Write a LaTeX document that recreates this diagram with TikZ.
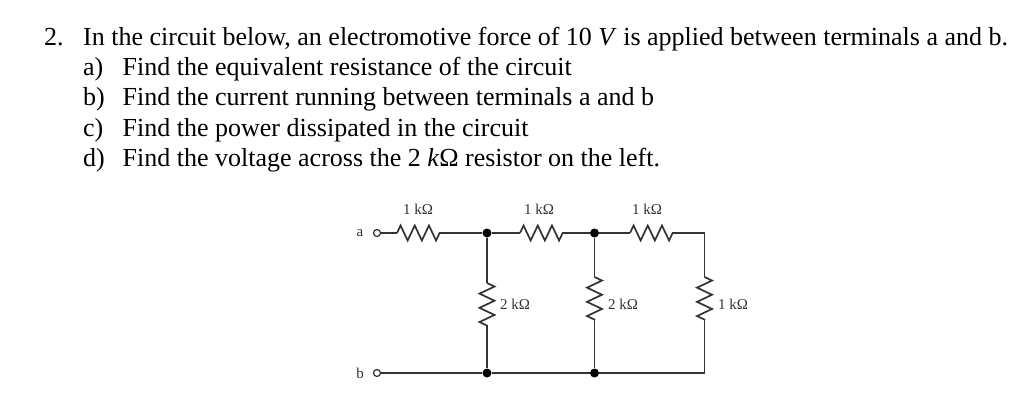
\documentclass[tikz,border=0pt]{standalone}
\usepackage{fontspec}
\setmainfont{Liberation Serif}
\usetikzlibrary{decorations.pathmorphing}
\tikzset{
    %Define style for text lines
    question/.style={
           anchor=base west,
           inner sep=0pt,
           font=\fontsize{26}{30}\selectfont,
           text=black},
    %Define style for component labels
    value/.style={
           inner sep=0pt,
           font=\fontsize{15}{16}\selectfont,
           text=black!80!white},
    %Define style for junctions and terminals
    junction/.style={
           circle,
           inner sep=0pt,
           minimum size=9pt,
           fill=black},
    terminal/.style={
           circle,
           inner sep=0pt,
           minimum size=7pt,
           draw=black!80!white, line width=1.2pt,
           fill=white},
    % Define wire and resistor style
    wire/.style={
           draw=black!80!white,
           line width=1.7pt},
    res/.style={
           wire,
           decorate,
           decoration={zigzag,amplitude=7.5pt,segment length=14.2pt}}
}

\begin{document}
\begin{tikzpicture}[x=1pt,y=-1pt]
\useasboundingbox (0,0) rectangle (1024,417);

 %text

\node[question] at (44,46) (num){2.};
\node[question] at (83,46) (line1){In the circuit below, an electromotive force of 10 \textit{V} is applied between terminals a and b.};
\node[question] at (83,76) (a1){a)};
\node[question] at (122.5,76) (a2){Find the equivalent resistance of the circuit};
\node[question] at (83,106) (b1){b)};
\node[question] at (122.5,106) (b2){Find the current running between terminals a and b};
\node[question] at (83,136) (c1){c)};
\node[question] at (122.5,136) (c2){Find the power dissipated in the circuit};
\node[question] at (83,166) (d1){d)};
\node[question] at (122.5,166) (d2){Find the voltage across the 2 \textit{k}Ω resistor on the left.};

 %nodes

\node[terminal] at (377,233) (A){};
\node[terminal] at (377,373) (B){};
\node[junction] at (487,233) (J1){};
\node[junction] at (594.5,233) (J2){};
\node[junction] at (487,373) (J3){};
\node[junction] at (594.5,373) (J4){};
\coordinate (C1) at (704.5,233);
\coordinate (C2) at (704.5,373);

\coordinate (R1a) at (397,233);
\coordinate (R1b) at (440,233);
\coordinate (R2a) at (520,233);
\coordinate (R2b) at (563,233);
\coordinate (R3a) at (630,233);
\coordinate (R3b) at (673,233);
\coordinate (R4a) at (487,283);
\coordinate (R4b) at (487,326);
\coordinate (R5a) at (594.5,277);
\coordinate (R5b) at (594.5,320);
\coordinate (R6a) at (704.5,277);
\coordinate (R6b) at (704.5,320);

\node[value] at (360,233) (la){a};
\node[value] at (360,373) (lb){b};
\node[value] at (418,209) (l1){1 kΩ};
\node[value] at (539,209) (l2){1 kΩ};
\node[value] at (647,209) (l3){1 kΩ};
\node[value] at (515,304) (l4){2 kΩ};
\node[value] at (623,304) (l5){2 kΩ};
\node[value] at (733,304) (l6){1 kΩ};

 \path[wire]
    (A) edge (R1a)
    (R1b) edge (J1)
    (J1) edge (R2a) edge (R4a)
    (R2b) edge (J2)
    (J2) edge (R3a) edge (R5a)
    (R3b) edge (C1)
    (C1) edge (R6a)
    (R4b) edge (J3)
    (R5b) edge (J4)
    (R6b) edge (C2)
    (B) edge (J3)
    (J3) edge (J4)
    (J4) edge (C2);
 \path
    (R1a) edge[res] (R1b)
    (R2a) edge[res] (R2b)
    (R3a) edge[res] (R3b)
    (R4a) edge[res] (R4b)
    (R5a) edge[res] (R5b)
    (R6a) edge[res] (R6b);

\end{tikzpicture}
\end{document}
